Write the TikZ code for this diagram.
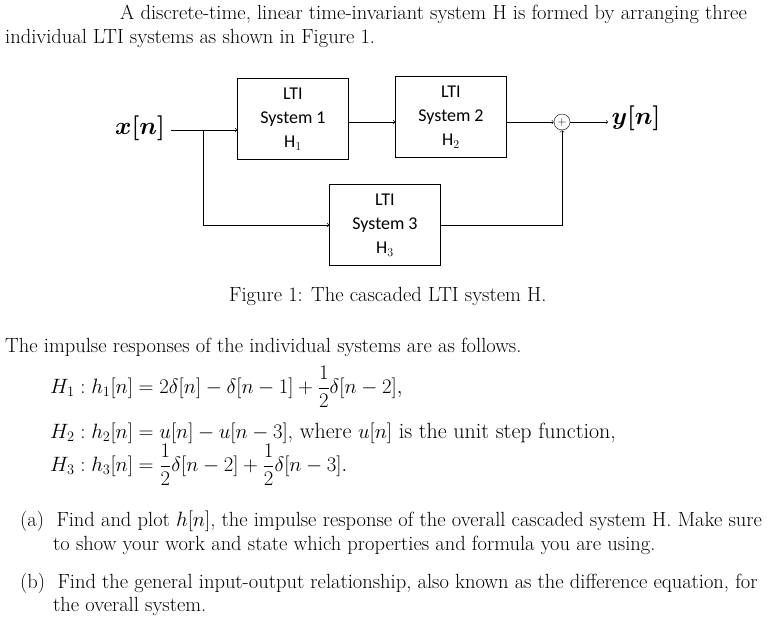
\documentclass[tikz,border=0pt]{standalone}
\usepackage{amsmath}
\usepackage{fontspec}
\newfontfamily\carfont{Carlito}
\begin{document}
\begin{tikzpicture}[x=1pt,y=-1pt,
  blk/.style={draw,semithick,minimum width=111pt,minimum height=81pt,inner sep=0pt,align=center,font=\carfont\fontsize{18}{24}\selectfont},
  txt/.style={anchor=west,inner sep=0pt,font=\fontsize{20.5}{24}\selectfont},
  mtxt/.style={anchor=west,inner sep=0pt,font=\fontsize{22}{24}\selectfont},
  arr/.style={-to,semithick}]
\useasboundingbox (0,0) rectangle (773,623);
\node[txt] (l1) at (120,14) {A discrete-time, linear time-invariant system H is formed by arranging three};
\node[txt] (l2) at (5,38) {individual LTI systems as shown in Figure 1.};
\node[blk] (b1) at (293,119) {LTI\\System 1\\H$_1$};
\node[blk] (b2) at (451,117) {LTI\\System 2\\H$_2$};
\node[blk] (b3) at (385,225) {LTI\\System 3\\H$_3$};
\node[inner sep=0pt,font=\fontsize{25}{25}\selectfont] (x) at (140,128) {$\boldsymbol{x[n]}$};
\node[inner sep=0pt,font=\fontsize{25}{25}\selectfont] (y) at (636,118) {$\boldsymbol{y[n]}$};
\node[draw,circle,minimum size=16pt,inner sep=0pt,font=\fontsize{12}{12}\selectfont] (s) at (562,122) {$+$};
\coordinate (br) at (203,130);
\draw[semithick] (171,130) -- (br);
\draw[arr] (br) -- (b1.west |- br);
\draw[arr] (br) |- (b3.west);
\draw[arr] (b1.east |- 0,122) -- (b2.west |- 0,122);
\draw[arr] (b2.east |- s) -- (s);
\draw[arr] (s) -- (608,122);
\draw[arr] (b3.east) -| (s.south);
\node[txt] (cap) at (229,296) {Figure 1: The cascaded LTI system H.};
\node[txt] (l3) at (5,347) {The impulse responses of the individual systems are as follows.};
\node[mtxt] (e1) at (50,387) {$H_1: h_1[n]=2\delta[n]-\delta[n-1]+\dfrac{1}{2}\delta[n-2],$};
\node[mtxt] (e2) at (50,433) {$H_2: h_2[n]=u[n]-u[n-3]$, where $u[n]$ is the unit step function,};
\node[mtxt] (e3) at (50,465) {$H_3: h_3[n]=\dfrac{1}{2}\delta[n-2]+\dfrac{1}{2}\delta[n-3].$};
\node[txt] (a1) at (20,521) {(a)\ \ Find and plot $h[n]$, the impulse response of the overall cascaded system H. Make sure};
\node[txt] (a2) at (53,545) {to show your work and state which properties and formula you are using.};
\node[txt] (c1) at (20,583) {(b)\ \ Find the general input-output relationship, also known as the difference equation, for};
\node[txt] (c2) at (53,606) {the overall system.};
\end{tikzpicture}
\end{document}
